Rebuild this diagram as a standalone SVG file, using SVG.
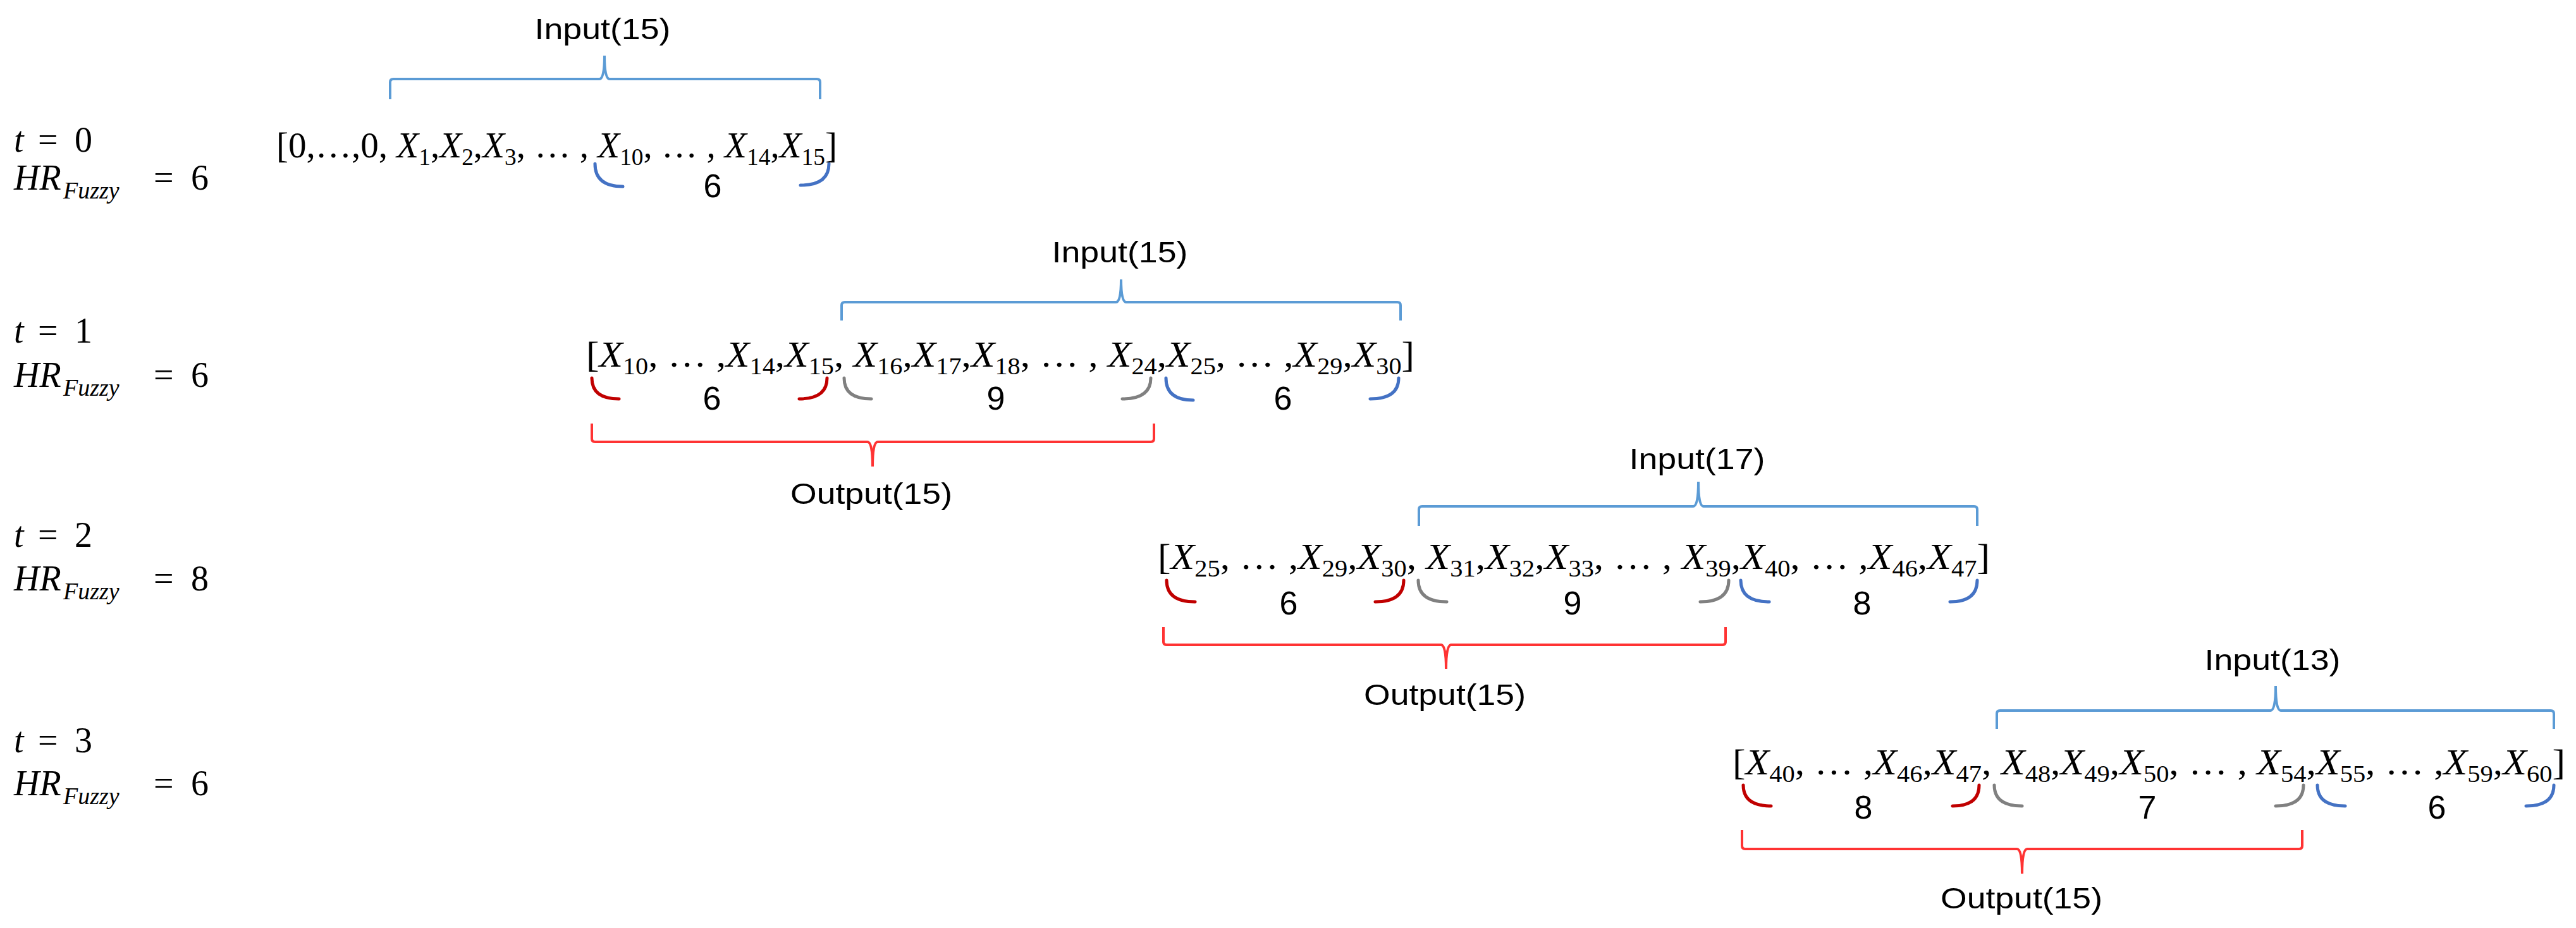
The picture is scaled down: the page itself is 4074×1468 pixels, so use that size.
<svg xmlns="http://www.w3.org/2000/svg" width="4074" height="1468" viewBox="0 0 4074 1468">
<style>
.lbl{font-family:"Liberation Sans",Arial,sans-serif;font-size:46px;fill:#000}
.num{font-family:"Liberation Sans",Arial,sans-serif;font-size:52px;fill:#000;text-anchor:middle}
.f{font-family:"Liberation Serif","Times New Roman",serif;font-size:58px;fill:#000}
.v{font-style:italic}
.s{font-size:38px}
.m{font-family:"Liberation Serif","Times New Roman",serif;font-size:56px;fill:#000}
.ms{font-size:38px}
.bb{fill:none;stroke:#5B9BD5;stroke-width:4}
.rb{fill:none;stroke:#FF3333;stroke-width:4}
.ar{fill:none;stroke:#C00000;stroke-width:5;stroke-linecap:round}
.ag{fill:none;stroke:#808080;stroke-width:5;stroke-linecap:round}
.ab{fill:none;stroke:#4472C4;stroke-width:5;stroke-linecap:round}
</style>
<g id="labels">
<g id="lab0"><text class="m" y="240"><tspan x="22" class="v">t</tspan><tspan x="60">=</tspan><tspan x="118">0</tspan></text>
<text class="m" y="300"><tspan x="22" class="v">HR</tspan><tspan x="100" class="v ms" dy="14">Fuzzy</tspan><tspan x="243" dy="-14">=</tspan><tspan x="302">6</tspan></text></g>
<g id="lab1"><text class="m" y="542"><tspan x="22" class="v">t</tspan><tspan x="60">=</tspan><tspan x="118">1</tspan></text>
<text class="m" y="612"><tspan x="22" class="v">HR</tspan><tspan x="100" class="v ms" dy="14">Fuzzy</tspan><tspan x="243" dy="-14">=</tspan><tspan x="302">6</tspan></text></g>
<g id="lab2"><text class="m" y="865"><tspan x="22" class="v">t</tspan><tspan x="60">=</tspan><tspan x="118">2</tspan></text>
<text class="m" y="934"><tspan x="22" class="v">HR</tspan><tspan x="100" class="v ms" dy="14">Fuzzy</tspan><tspan x="243" dy="-14">=</tspan><tspan x="302">8</tspan></text></g>
<g id="lab3"><text class="m" y="1190"><tspan x="22" class="v">t</tspan><tspan x="60">=</tspan><tspan x="118">3</tspan></text>
<text class="m" y="1258"><tspan x="22" class="v">HR</tspan><tspan x="100" class="v ms" dy="14">Fuzzy</tspan><tspan x="243" dy="-14">=</tspan><tspan x="302">6</tspan></text></g>
</g>
<g id="row0">
<text class="lbl" x="953" y="62" text-anchor="middle" textLength="215" lengthAdjust="spacingAndGlyphs">Input(15)</text>
<text class="f" x="437" y="249" textLength="887" lengthAdjust="spacingAndGlyphs">[0,…,0, <tspan class="v">X</tspan><tspan class="s" dy="12">1</tspan><tspan dy="-12">,</tspan><tspan class="v">X</tspan><tspan class="s" dy="12">2</tspan><tspan dy="-12">,</tspan><tspan class="v">X</tspan><tspan class="s" dy="12">3</tspan><tspan dy="-12">, … , </tspan><tspan class="v">X</tspan><tspan class="s" dy="12">10</tspan><tspan dy="-12">, … , </tspan><tspan class="v">X</tspan><tspan class="s" dy="12">14</tspan><tspan dy="-12">,</tspan><tspan class="v">X</tspan><tspan class="s" dy="12">15</tspan><tspan dy="-12">]</tspan></text>
<text class="num" x="1127" y="312">6</text>
</g>
<g id="row1">
<text class="lbl" x="1771" y="415" text-anchor="middle" textLength="215" lengthAdjust="spacingAndGlyphs">Input(15)</text>
<text class="f" x="927" y="580" textLength="1310" lengthAdjust="spacingAndGlyphs">[<tspan class="v">X</tspan><tspan class="s" dy="12">10</tspan><tspan dy="-12">, … ,</tspan><tspan class="v">X</tspan><tspan class="s" dy="12">14</tspan><tspan dy="-12">,</tspan><tspan class="v">X</tspan><tspan class="s" dy="12">15</tspan><tspan dy="-12">, </tspan><tspan class="v">X</tspan><tspan class="s" dy="12">16</tspan><tspan dy="-12">,</tspan><tspan class="v">X</tspan><tspan class="s" dy="12">17</tspan><tspan dy="-12">,</tspan><tspan class="v">X</tspan><tspan class="s" dy="12">18</tspan><tspan dy="-12">, … , </tspan><tspan class="v">X</tspan><tspan class="s" dy="12">24</tspan><tspan dy="-12">,</tspan><tspan class="v">X</tspan><tspan class="s" dy="12">25</tspan><tspan dy="-12">, … ,</tspan><tspan class="v">X</tspan><tspan class="s" dy="12">29</tspan><tspan dy="-12">,</tspan><tspan class="v">X</tspan><tspan class="s" dy="12">30</tspan><tspan dy="-12">]</tspan></text>
<text class="num" x="1126" y="648">6</text>
<text class="num" x="1575" y="648">9</text>
<text class="num" x="2029" y="648">6</text>
<text class="lbl" x="1378" y="797" text-anchor="middle" textLength="256" lengthAdjust="spacingAndGlyphs">Output(15)</text>
</g>
<g id="row2">
<text class="lbl" x="2684" y="742" text-anchor="middle" textLength="215" lengthAdjust="spacingAndGlyphs">Input(17)</text>
<text class="f" x="1831" y="900" textLength="1316" lengthAdjust="spacingAndGlyphs">[<tspan class="v">X</tspan><tspan class="s" dy="12">25</tspan><tspan dy="-12">, … ,</tspan><tspan class="v">X</tspan><tspan class="s" dy="12">29</tspan><tspan dy="-12">,</tspan><tspan class="v">X</tspan><tspan class="s" dy="12">30</tspan><tspan dy="-12">, </tspan><tspan class="v">X</tspan><tspan class="s" dy="12">31</tspan><tspan dy="-12">,</tspan><tspan class="v">X</tspan><tspan class="s" dy="12">32</tspan><tspan dy="-12">,</tspan><tspan class="v">X</tspan><tspan class="s" dy="12">33</tspan><tspan dy="-12">, … , </tspan><tspan class="v">X</tspan><tspan class="s" dy="12">39</tspan><tspan dy="-12">,</tspan><tspan class="v">X</tspan><tspan class="s" dy="12">40</tspan><tspan dy="-12">, … ,</tspan><tspan class="v">X</tspan><tspan class="s" dy="12">46</tspan><tspan dy="-12">,</tspan><tspan class="v">X</tspan><tspan class="s" dy="12">47</tspan><tspan dy="-12">]</tspan></text>
<text class="num" x="2038" y="972">6</text>
<text class="num" x="2487" y="972">9</text>
<text class="num" x="2945" y="972">8</text>
<text class="lbl" x="2285" y="1115" text-anchor="middle" textLength="256" lengthAdjust="spacingAndGlyphs">Output(15)</text>
</g>
<g id="row3">
<text class="lbl" x="3594" y="1060" text-anchor="middle" textLength="215" lengthAdjust="spacingAndGlyphs">Input(13)</text>
<text class="f" x="2740" y="1225" textLength="1317" lengthAdjust="spacingAndGlyphs">[<tspan class="v">X</tspan><tspan class="s" dy="12">40</tspan><tspan dy="-12">, … ,</tspan><tspan class="v">X</tspan><tspan class="s" dy="12">46</tspan><tspan dy="-12">,</tspan><tspan class="v">X</tspan><tspan class="s" dy="12">47</tspan><tspan dy="-12">, </tspan><tspan class="v">X</tspan><tspan class="s" dy="12">48</tspan><tspan dy="-12">,</tspan><tspan class="v">X</tspan><tspan class="s" dy="12">49</tspan><tspan dy="-12">,</tspan><tspan class="v">X</tspan><tspan class="s" dy="12">50</tspan><tspan dy="-12">, … , </tspan><tspan class="v">X</tspan><tspan class="s" dy="12">54</tspan><tspan dy="-12">,</tspan><tspan class="v">X</tspan><tspan class="s" dy="12">55</tspan><tspan dy="-12">, … ,</tspan><tspan class="v">X</tspan><tspan class="s" dy="12">59</tspan><tspan dy="-12">,</tspan><tspan class="v">X</tspan><tspan class="s" dy="12">60</tspan><tspan dy="-12">]</tspan></text>
<text class="num" x="2947" y="1295">8</text>
<text class="num" x="3396" y="1295">7</text>
<text class="num" x="3854" y="1295">6</text>
<text class="lbl" x="3197" y="1437" text-anchor="middle" textLength="256" lengthAdjust="spacingAndGlyphs">Output(15)</text>
</g>
<g id="connectors">
<path class="bb" d="M617 157 L617 130 Q617 125 622 125 L948 125 Q956 125 956 88 Q956 125 964 125 L1292 125 Q1297 125 1297 130 L1297 157"/>
<path class="ab" d="M941 259 Q941 295 985 295"/>
<path class="ab" d="M1311 259 Q1311 293 1266 293"/>

<path class="bb" d="M1331 507 L1331 483 Q1331 478 1336 478 L1765 478 Q1773 478 1773 442 Q1773 478 1781 478 L2210 478 Q2215 478 2215 483 L2215 507"/>
<path class="ar" d="M936 598 Q936 631 979 631"/>
<path class="ar" d="M1308 598 Q1308 631 1264 631"/>
<path class="ag" d="M1335 598 Q1335 631 1378 631"/>
<path class="ag" d="M1820 598 Q1820 631 1775 631"/>
<path class="ab" d="M1844 598 Q1844 633 1887 633"/>
<path class="ab" d="M2212 598 Q2212 631 2167 631"/>
<path class="rb" d="M936 670 L936 694 Q936 699 941 699 L1372 699 Q1380 699 1380 738 Q1380 699 1388 699 L1820 699 Q1825 699 1825 694 L1825 670"/>

<path class="bb" d="M2244 832 L2244 806 Q2244 801 2249 801 L2678 801 Q2686 801 2686 762 Q2686 801 2694 801 L3122 801 Q3127 801 3127 806 L3127 832"/>
<path class="ar" d="M1845 918 Q1845 952 1890 952"/>
<path class="ar" d="M2220 918 Q2220 952 2175 952"/>
<path class="ag" d="M2243 918 Q2243 952 2288 952"/>
<path class="ag" d="M2734 918 Q2734 952 2689 952"/>
<path class="ab" d="M2753 918 Q2753 952 2798 952"/>
<path class="ab" d="M3127 918 Q3127 952 3084 952"/>
<path class="rb" d="M1840 992 L1840 1015 Q1840 1020 1845 1020 L2279 1020 Q2287 1020 2287 1058 Q2287 1020 2295 1020 L2724 1020 Q2729 1020 2729 1015 L2729 992"/>

<path class="bb" d="M3158 1153 L3158 1129 Q3158 1124 3163 1124 L3591 1124 Q3599 1124 3599 1085 Q3599 1124 3607 1124 L4034 1124 Q4039 1124 4039 1129 L4039 1153"/>
<path class="ar" d="M2757 1242 Q2757 1275 2801 1275"/>
<path class="ar" d="M3130 1242 Q3130 1275 3088 1275"/>
<path class="ag" d="M3154 1242 Q3154 1275 3198 1275"/>
<path class="ag" d="M3643 1242 Q3643 1275 3599 1275"/>
<path class="ab" d="M3665 1242 Q3665 1275 3709 1275"/>
<path class="ab" d="M4039 1242 Q4039 1275 3995 1275"/>
<path class="rb" d="M2755 1313 L2755 1338 Q2755 1343 2760 1343 L3190 1343 Q3198 1343 3198 1382 Q3198 1343 3206 1343 L3636 1343 Q3641 1343 3641 1338 L3641 1313"/>
</g>
</svg>
